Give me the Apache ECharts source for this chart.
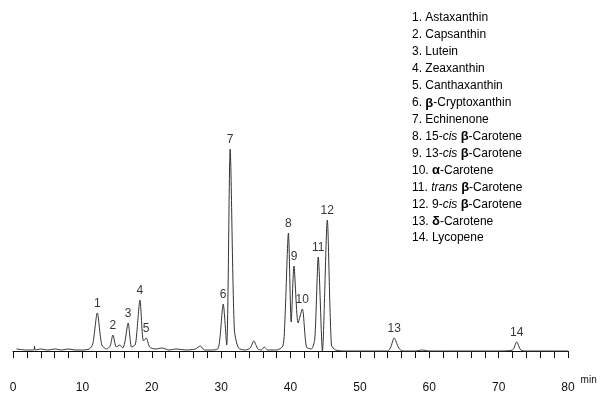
<!DOCTYPE html>
<html>
<head>
<meta charset="utf-8">
<script src="https://cdn.jsdelivr.net/npm/echarts@6/dist/echarts.min.js"></script>
<style>html,body{margin:0;background:#fff}#c{width:601px;height:411px}</style>
</head>
<body>
<div id="c"></div>
<script>
// retention time (min) vs detector signal
const times = [0.5, 2, 3, 3.1, 3.2, 4, 5, 6, 7, 8, 9, 10, 11, 11.5, 12.15, 12.8, 13.5, 14, 14.4, 14.9, 15.4, 15.8, 16.1, 16.6, 17.1, 17.6, 17.8, 18.3, 18.8, 19.2, 19.7, 20.5, 21.5, 22.5, 23.5, 25, 26.3, 27, 27.6, 28.5, 29.5, 29.8, 30.3, 30.8, 31.3, 31.9, 32.5, 33.5, 34.2, 34.7, 35.3, 35.8, 36.2, 36.7, 38, 38.9, 39.2, 39.7, 40.1, 40.5, 41.1, 41.7, 42.3, 43, 43.5, 44.0, 44.6, 45.3, 45.9, 46.5, 48, 50, 52, 54, 54.4, 54.95, 55.6, 56.2, 58, 59, 60, 65, 70, 72, 72.6, 73.2, 74, 78, 80];
const signal = [2, 1, 1, 5, 1, 2, 1, 2, 1, 2, 1, 1, 2, 7, 38, 6, 2, 5, 16, 4, 6, 3, 8, 28, 4, 6, 15, 51, 10, 13, 4, 2, 3, 1, 2, 1, 2, 5, 1, 1, 2, 11, 47, 6, 202, 22, 3, 1, 3, 10, 2, 1, 4, 1, 1, 5, 32, 118, 29, 85, 28, 42, 4, 2, 12, 94, 0, 131, 6, 1, 0, 0, 0, 0, 3, 13, 3, 0, 0, 1, 0, 0, 0, 1, 9, 1, 0, 0, 0];
const peakLabels = ['1', '2', '3', '4', '5', '6', '7', '8', '9', '10', '11', '12', '13', '14'];
const peakTimes = [12.15, 14.4, 16.6, 18.3, 19.2, 30.3, 31.3, 39.7, 40.5, 41.7, 44.0, 45.3, 54.95, 72.6];
const peakHeights = [38, 16, 28, 51, 13, 47, 202, 118, 85, 42, 94, 131, 13, 9];
const compounds = [
  '1. Astaxanthin',
  '2. Capsanthin',
  '3. Lutein',
  '4. Zeaxanthin',
  '5. Canthaxanthin',
  '6. {b|β}-Cryptoxanthin',
  '7. Echinenone',
  '8. 15-{i|cis} {b|β}-Carotene',
  '9. 13-{i|cis} {b|β}-Carotene',
  '10. {b|α}-Carotene',
  '11. {i|trans} {b|β}-Carotene',
  '12. 9-{i|cis} {b|β}-Carotene',
  '13. {b|δ}-Carotene',
  '14. Lycopene'
];

const chart = echarts.init(document.getElementById('c'));
const font = 'Liberation Sans, Arial, sans-serif';

chart.setOption({
  animation: false,
  grid: { left: 13, right: 33, top: 140, bottom: 39 },
  xAxis: {
    type: 'value', min: 0, max: 80, interval: 10,
    name: 'min', nameLocation: 'end', nameGap: 5,
    nameTextStyle: { color: '#111', fontSize: 10, fontFamily: font, verticalAlign: 'top', padding: [24, 0, 0, 0] },
    axisLine: { lineStyle: { color: '#111', width: 1 } },
    axisTick: { length: 7, lineStyle: { color: '#111' } },
    minorTick: { show: true, splitNumber: 5, length: 7, lineStyle: { color: '#111' } },
    axisLabel: { color: '#111', fontSize: 12, fontFamily: font, margin: 10 },
    splitLine: { show: false }
  },
  yAxis: { type: 'value', min: -21, max: 211, show: false },
  series: [
    {
      type: 'line',
      data: times.map((t, i) => [t, signal[i]]),
      symbol: 'none', smooth: 0.25,
      lineStyle: { color: '#333', width: 1 }
    },
    {
      type: 'scatter',
      data: peakTimes.map((t, i) => [t, peakHeights[i]]),
      symbolSize: 0,
      label: {
        show: true, position: 'top', distance: 3,
        formatter: p => peakLabels[p.dataIndex],
        color: '#000', fontSize: 12, fontFamily: font
      }
    }
  ],
  graphic: compounds.map((s, i) => ({
    type: 'text', left: 412, top: 12 + i * 16.9,
    style: {
      text: s, fill: '#000', font: '12px ' + font,
      rich: {
        i: { fontStyle: 'italic', fontSize: 12, fontFamily: font, fill: '#000' },
        b: { fontWeight: 'bold', fontSize: 13, fontFamily: font, fill: '#000' }
      }
    }
  }))
});
</script>
</body>
</html>
